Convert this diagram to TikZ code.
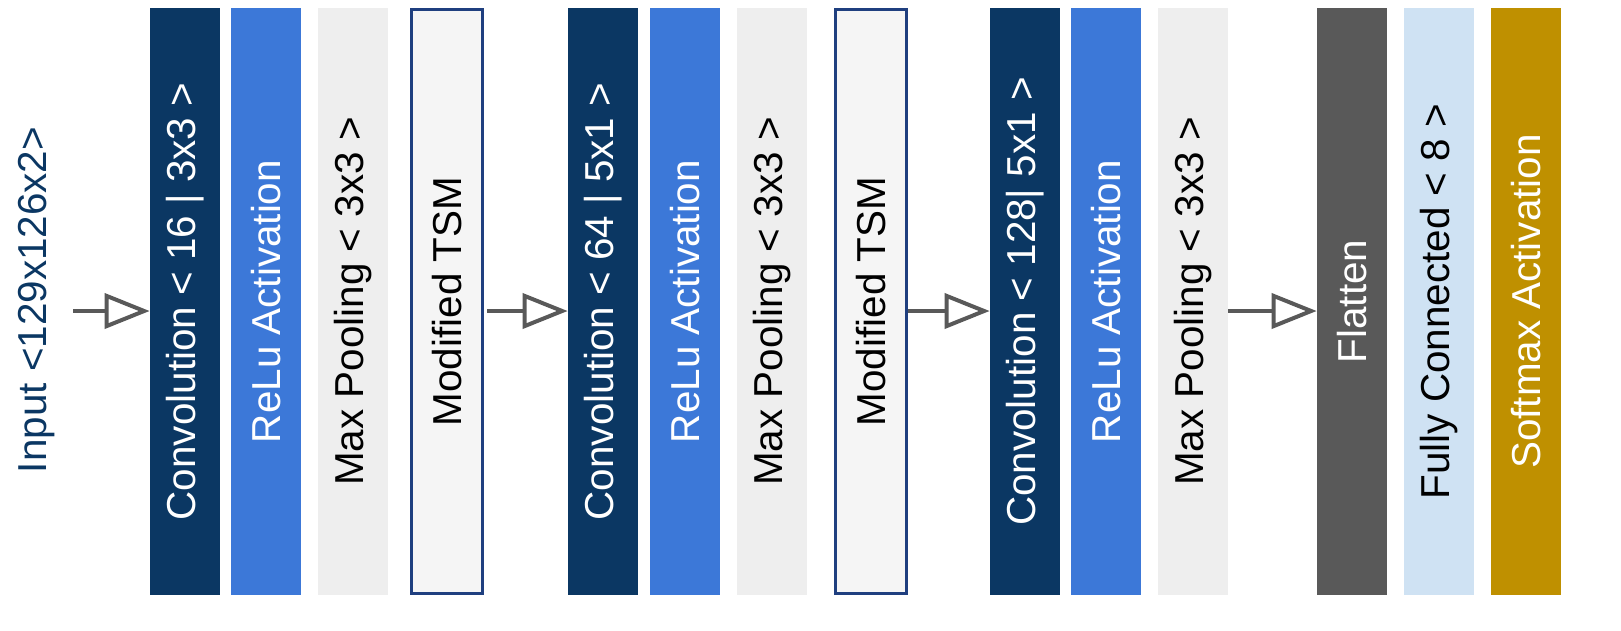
\documentclass[tikz,border=0pt]{standalone}
\usepackage{fontspec}
\setmainfont{Liberation Sans}
\usetikzlibrary{arrows.meta}
\definecolor{convblue}{HTML}{0B3763}
\definecolor{relublue}{HTML}{3C78D8}
\definecolor{poolgray}{HTML}{EEEEEE}
\definecolor{tsmedge}{HTML}{1F3F7F}
\definecolor{flatgray}{HTML}{595959}
\definecolor{fcblue}{HTML}{CFE2F3}
\definecolor{softgold}{HTML}{BF9000}
\tikzset{
  layer/.style={minimum width=11.74cm,minimum height=1.4cm,rotate=90,inner sep=0pt,
    font=\fontsize{23}{27}\selectfont},
  conv/.style={layer,fill=convblue,text=white},
  relu/.style={layer,fill=relublue,text=white},
  pool/.style={layer,fill=poolgray,text=black},
  tsm/.style={layer,fill=poolgray!60!white,draw=tsmedge,line width=0.06cm,minimum width=11.68cm,minimum height=1.42cm},
  flow/.style={draw=black!65,line width=0.08cm,-{Triangle[open,length=0.9cm,width=0.7cm]}}
}
\begin{document}
\begin{tikzpicture}[x=0.02cm,y=-0.02cm]
\useasboundingbox (0,0) rectangle (1621,630);
\node[rotate=90,text=convblue,font=\fontsize{23}{27}\selectfont] (in) at (37,300) {Input <129x126x2>};
\node[conv] (c1) at (185,301.5) {Convolution < 16 | 3x3 >};
\node[relu] (r1) at (266,301.5) {ReLu Activation};
\node[pool] (p1) at (353,301.5) {Max Pooling < 3x3 >};
\node[tsm] (t1) at (447,301.5) {Modified TSM};
\node[conv] (c2) at (603,301.5) {Convolution < 64 | 5x1 >};
\node[relu] (r2) at (685,301.5) {ReLu Activation};
\node[pool] (p2) at (772,301.5) {Max Pooling < 3x3 >};
\node[tsm] (t2) at (871,301.5) {Modified TSM};
\node[conv] (c3) at (1025,301.5) {Convolution < 128| 5x1 >};
\node[relu] (r3) at (1106,301.5) {ReLu Activation};
\node[pool] (p3) at (1193,301.5) {Max Pooling < 3x3 >};
\node[layer,fill=flatgray,text=white] (fl) at (1352,301.5) {Flatten};
\node[layer,fill=fcblue,text=black] (fc) at (1439,301.5) {Fully Connected < 8 >};
\node[layer,fill=softgold,text=white] (sm) at (1526,301.5) {Softmax Activation};
% connectors
\coordinate (a0) at (73,311);
\coordinate (a1) at (487,311);
\coordinate (a2) at (908,311);
\coordinate (a3) at (1228,311);
\draw[flow] (a0) -- (a0 -| c1.north);
\draw[flow] (a1) -- (a1 -| c2.north);
\draw[flow] (a2) -- (a2 -| c3.north);
\draw[flow] (a3) -- (a3 -| fl.north);
\end{tikzpicture}
\end{document}
